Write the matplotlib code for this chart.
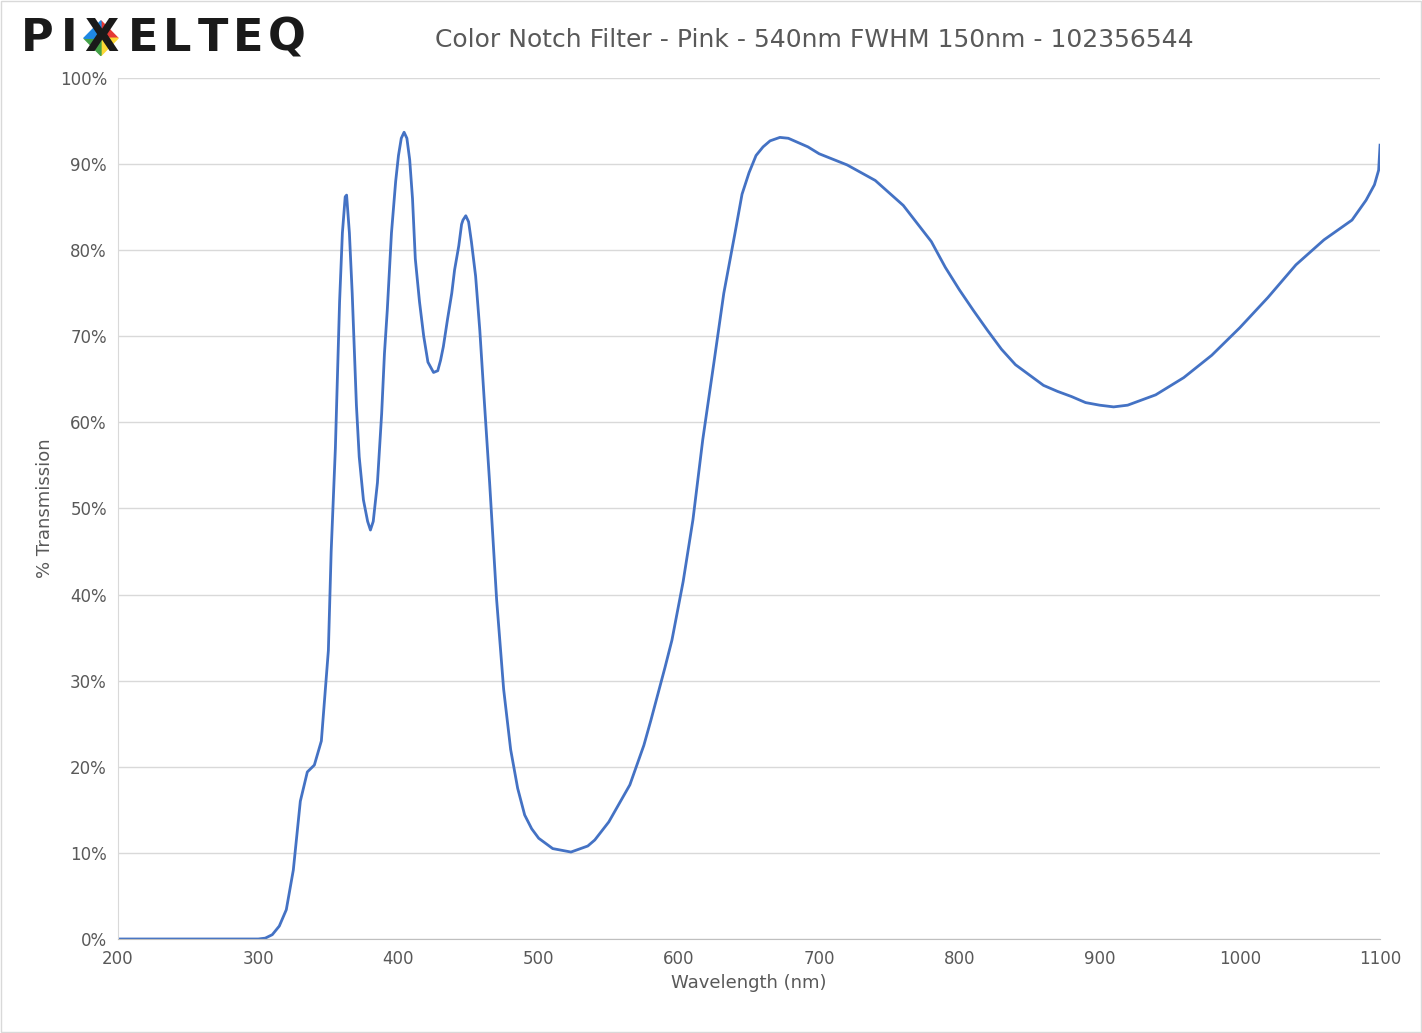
import numpy as np
import matplotlib.pyplot as plt
from matplotlib.patches import Polygon

# Wavelength (nm) and % transmission
wavelength = [200, 250, 300, 305, 310, 315, 320, 325, 330, 335, 340, 345, 350, 352, 355, 358, 360, 362, 363, 365,
              367, 370, 372, 375, 378, 380, 382, 385, 388, 390, 392, 395, 398, 400, 402, 404, 406, 408, 410, 412,
              415, 418, 421, 425, 428, 430, 432, 435, 438, 440, 443, 445, 446, 448, 450, 452, 455, 458, 461,
              465, 470, 475, 480, 485, 490, 495, 500, 510, 523, 535, 540, 550, 565, 575, 580, 590, 595, 603,
              610, 617, 625, 632, 640, 645, 650, 655, 660, 665, 672, 678, 685, 692, 700, 720, 740, 760, 780,
              790, 800, 810, 820, 830, 840, 850, 860, 870, 880, 890, 900, 910, 920, 940, 960, 980, 1000,
              1020, 1040, 1060, 1080, 1090, 1096, 1099, 1100]
transmission = [0, 0, 0, 0.1, 0.5, 1.5, 3.4, 8, 16, 19.4, 20.2, 23, 33.5, 45, 57, 74, 82, 86.2, 86.4, 82,
                75, 62, 56, 51, 48.5, 47.5, 48.5, 53, 61, 68, 73, 82, 88, 91, 93, 93.7, 93, 90.5, 86, 79,
                74, 70, 67, 65.8, 66, 67.2, 68.8, 72, 75, 77.7, 80.5, 83, 83.5, 84, 83.3, 81, 77, 70.7, 63,
                53, 39.4, 29, 22, 17.5, 14.4, 12.8, 11.7, 10.5, 10.1, 10.8, 11.5, 13.6, 17.9, 22.5, 25.4, 31.5, 34.7, 41.5,
                48.7, 58, 67, 75, 82, 86.5, 89, 91, 92, 92.7, 93.1, 93, 92.5, 92, 91.2, 89.9, 88.1, 85.2, 81,
                78, 75.4, 73, 70.7, 68.5, 66.7, 65.5, 64.3, 63.6, 63, 62.3, 62, 61.8, 62, 63.2, 65.2, 67.8, 71,
                74.5, 78.3, 81.2, 83.5, 85.8, 87.6, 89.3, 92.2]

fig = plt.figure(figsize=(14.22, 10.33), dpi=100)
ax = fig.add_axes([0.083, 0.091, 0.8875, 0.8335])
ax.plot(wavelength, transmission, color='#4472C4', lw=2)

ax.set_xlim(200, 1100)
ax.set_ylim(0, 100)
ax.set_xticks(range(200, 1101, 100))
ax.set_yticks(range(0, 101, 10))
ax.set_yticklabels([f'{v}%' for v in range(0, 101, 10)])
ax.grid(axis='y', color='#D9D9D9', lw=1)
ax.set_axisbelow(True)
for s in ['top', 'right']:
    ax.spines[s].set_visible(False)
ax.spines['left'].set_color('#D9D9D9')
ax.spines['bottom'].set_color('#BFBFBF')
ax.tick_params(length=0, labelsize=12, colors='#595959', pad=8)
ax.set_xlabel('Wavelength (nm)', fontsize=13, color='#595959')
ax.set_ylabel('% Transmission', fontsize=13, color='#595959')

fig.text(0.573, 0.961, 'Color Notch Filter - Pink - 540nm FWHM 150nm - 102356544',
         ha='center', va='center', fontsize=18, color='#595959')

# logo
logo = dict(fontsize=32, fontweight='bold', va='center', color='#1a1a1a')
fig.text(0.015, 0.963, 'P', **logo)
fig.text(0.043, 0.963, 'I', **logo)
cx, cy, r = 0.071, 0.963, 0.012
cols = ['#E53935', '#FDD835', '#43A047', '#1E88E5']
pts = [(cx, cy + r * 1.4), (cx + r, cy), (cx, cy - r * 1.4), (cx - r, cy)]
for i in range(4):
    fig.patches.append(Polygon([(cx, cy), pts[i], pts[(i + 1) % 4]], closed=True,
                               transform=fig.transFigure, color=cols[i]))
fig.text(cx, 0.963, 'X', ha='center', **{k: v for k, v in logo.items()})
for i, ch in enumerate('ELTEQ'):
    fig.text(0.090 + i * 0.0245, 0.963, ch, **logo)

fig.patches.append(plt.Rectangle((0.001, 0.001), 0.998, 0.998, transform=fig.transFigure,
                                 fill=False, edgecolor='#D9D9D9', lw=1))
fig.savefig('out.png', dpi=100)
